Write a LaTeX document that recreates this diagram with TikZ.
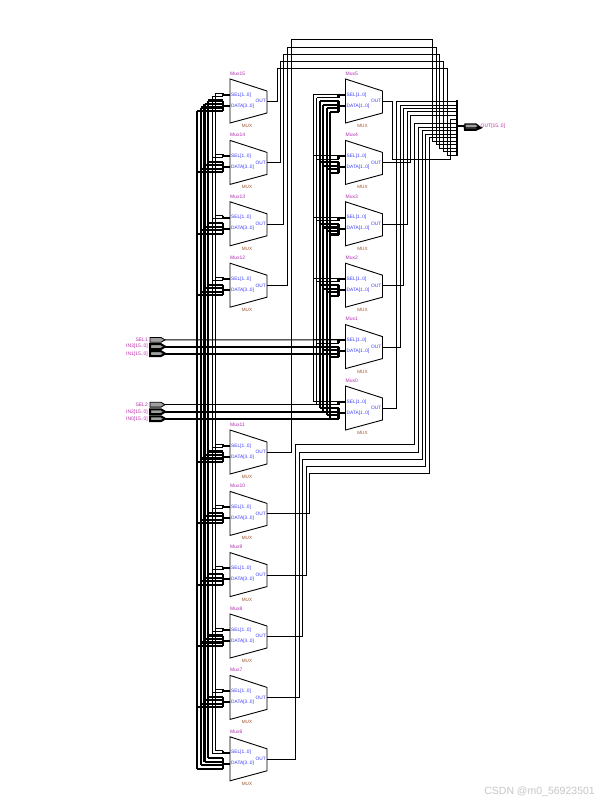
\documentclass[tikz,border=0pt]{standalone}
\usepackage{fontspec}
\setmainfont{Liberation Sans}
\definecolor{pinblue}{HTML}{3A3AFF}
\definecolor{muxname}{HTML}{B030B0}
\definecolor{muxbrown}{HTML}{A0502A}
\definecolor{iolabel}{HTML}{C030B0}
\tikzset{
  wire/.style={draw=black,line width=1pt},
  buswire/.style={draw=black,line width=2.1pt},
  muxbody/.style={draw=black,line width=0.9pt,fill=white,line join=miter},
  pinlabel/.style={inner sep=0pt,text=pinblue,font=\fontsize{4.8}{5.5}\selectfont},
  namelabel/.style={inner sep=0pt,text=muxname,font=\fontsize{5}{6}\selectfont},
  typelabel/.style={inner sep=0pt,text=muxbrown,font=\fontsize{4.6}{5.5}\selectfont},
  iotext/.style={inner sep=0pt,text=iolabel,font=\fontsize{5}{6}\selectfont},
  pinshape/.style={draw=black,fill=gray!75,line join=miter},
}
% name, x0, y0, instance label, data label
\newcommand{\muxcore}[5]{%
  \draw[muxbody] (#2,#3) -- (#2+37,#3+12) -- (#2+37,#3+34) -- (#2,#3+44) -- cycle;
  \coordinate (#1sel) at (#2,#3+15.8);
  \coordinate (#1dat) at (#2,#3+26.8);
  \coordinate (#1o) at (#2+37,#3+22.5);
  \node[namelabel,anchor=west] (#1name) at (#2,#3-5.5) {#4};
  \node[pinlabel,anchor=west] (#1stext) at (#2+1,#3+15.8) {SEL[1..0]};
  \node[pinlabel,anchor=west] (#1dtext) at (#2+1,#3+26.8) {#5};
  \node[pinlabel,anchor=east] (#1otext) at (#2+36,#3+22.2) {OUT};
  \node[typelabel] (#1type) at (#2+17,#3+47) {MUX};
}
% name, x0, y0: six levels, six bus x positions
\newcommand{\taps}[3]{%
  \coordinate (#1ts1) at (#2-7,#3+\lvA);
  \coordinate (#1ts2) at (#2-7,#3+\lvB);
  \coordinate (#1td1) at (#2-7,#3+\lvC);
  \coordinate (#1td2) at (#2-7,#3+\lvD);
  \coordinate (#1td3) at (#2-7,#3+\lvE);
  \coordinate (#1td4) at (#2-7,#3+\lvF);
  \coordinate (#1a) at (\xA,#3+\lvA);
  \coordinate (#1b) at (\xB,#3+\lvB);
  \coordinate (#1c) at (\xC,#3+\lvC);
  \coordinate (#1d) at (\xD,#3+\lvD);
  \coordinate (#1e) at (\xE,#3+\lvE);
  \coordinate (#1f) at (\xF,#3+\lvF);
  \path[wire] (#1a) -- (#1ts1) (#1b) -- (#1ts2);
  \path[buswire] (#1c) -- (#1td1) (#1d) -- (#1td2) (#1e) -- (#1td3) (#1f) -- (#1td4);
  \path[buswire] (#1ts1) -- (#1ts2) (#1td1) -- (#1td4);
  \path[buswire] (#2-7,#3+15.8) -- (#1sel) (#2-7,#3+26.8) -- (#1dat);
}
\newcommand{\useleft}{\def\lvA{14}\def\lvB{17}\def\lvC{21.5}\def\lvD{25}\def\lvE{28.5}\def\lvF{32}%
  \def\xA{215}\def\xB{212}\def\xC{208}\def\xD{204.5}\def\xE{201}\def\xF{197}}
\newcommand{\useright}{\def\lvA{15.3}\def\lvB{18.7}\def\lvC{22}\def\lvD{25.7}\def\lvE{29}\def\lvF{32.7}%
  \def\xA{313.3}\def\xB{316.7}\def\xC{320}\def\xD{323.3}\def\xE{326.7}\def\xF{330}}
\begin{document}
\begin{tikzpicture}[x=1pt,y=-1pt]
\useasboundingbox (0,0) rectangle (611,803);
\fill[white] (0,0) rectangle (611,803);

% multiplexers, left column
\useleft
\foreach \n/\y/\t in {15/79/Mux15,14/140.4/Mux14,13/201.8/Mux13,12/263.2/Mux12,11/430/Mux11,10/491.4/Mux10,9/552.6/Mux9,8/614/Mux8,7/675.4/Mux7,6/736.8/Mux6}{
  \muxcore{m\n}{230}{\y}{\t}{DATA[3..0]}
  \taps{m\n}{230}{\y}
}
\draw[wire] (m15a) -- (m6a) (m15b) -- (m6b);
\draw[buswire] (m15c) -- (m6c) (m15d) -- (m6d) (m15e) -- (m6e) (m15f) -- (m6f);

% multiplexers, right column
\useright
\foreach \n/\y/\t in {5/79/Mux5,4/140.4/Mux4,3/201.8/Mux3,2/263.2/Mux2,1/324.6/Mux1,0/386/Mux0}{
  \muxcore{m\n}{345.5}{\y}{\t}{DATA[1..0]}
  \taps{m\n}{345.5}{\y}
}
\draw[wire] (m5a) -- (m0a) (m5b) -- (m0b);
\draw[buswire] (m5c) -- (m0c) (m5d) -- (m0d) (m5e) -- (m0e) (m5f) -- (m0f);

% input pins
\coordinate (sel1pin) at (165,339.9);
\coordinate (in3pin) at (165,346.6);
\coordinate (in1pin) at (165,353.6);
\coordinate (sel2pin) at (165,404.7);
\coordinate (in2pin) at (165,411.7);
\coordinate (in0pin) at (165,418.7);
\draw[wire] (sel1pin) -- (m1ts1);
\draw[buswire] (in3pin) -- (m1td1);
\draw[buswire] (in1pin) -- (m1td3);
\draw[wire] (sel2pin) -- (m0ts2);
\draw[buswire] (in2pin) -- (m0td2);
\draw[buswire] (in0pin) -- (m0td4);
\foreach \p/\w in {sel1pin/0.8pt,sel2pin/0.8pt,in3pin/2pt,in1pin/2pt,in2pin/2pt,in0pin/2pt}{
  \draw[pinshape,line width=\w] ([shift={(-15,-2.4)}]\p) -- ([shift={(-4,-2.4)}]\p) -- ([shift={(0,0)}]\p) -- ([shift={(-4,2.4)}]\p) -- ([shift={(-15,2.4)}]\p) -- cycle;
}
\node[iotext,anchor=east] (sel1text) at (148,339.3) {SEL1};
\node[iotext,anchor=east] (in3text) at (148,346.7) {IN3[15..0]};
\node[iotext,anchor=east] (in1text) at (148,354) {IN1[15..0]};
\node[iotext,anchor=east] (sel2text) at (148,404.3) {SEL2};
\node[iotext,anchor=east] (in2text) at (148,412) {IN2[15..0]};
\node[iotext,anchor=east] (in0text) at (148,419) {IN0[15..0]};

% output bus
\coordinate (bustop) at (457,100);
\coordinate (busbot) at (457,155.8);
\coordinate (busout) at (457,125.8);
\coordinate (outpin) at (464.5,125.8);
\foreach \n/\y in {0/101,1/105,2/108.3,3/111.7,4/115,5/119.3,6/123.3,7/127,8/130.7,9/134.3,10/137.7,11/141,12/144.7,13/148.3,14/151.7,15/155}
  \coordinate (b\n) at (457,\y);

\draw[wire] (m0o) -| (396.3,101) -- (b0);
\draw[wire] (m1o) -| (400.3,105) -- (b1);
\draw[wire] (m2o) -| (403.7,108.3) -- (b2);
\draw[wire] (m3o) -| (407,111.7) -- (b3);
\draw[wire] (m4o) -| (410.3,115) -- (b4);
\draw[wire] (m5o) -| (392.3,159.3) -| (450.3,119.3) -- (b5);
\draw[wire] (m6o) -| (295.5,444.3) -| (414.7,123.3) -- (b6);
\draw[wire] (m7o) -| (299,452.3) -| (418.3,127) -- (b7);
\draw[wire] (m8o) -| (302.7,459.3) -| (422,130.7) -- (b8);
\draw[wire] (m9o) -| (306,466.3) -| (425.7,134.3) -- (b9);
\draw[wire] (m10o) -| (309.7,473.3) -| (429.5,137.7) -- (b10);
\draw[wire] (m11o) -| (291,39.3) -| (432.3,141) -- (b11);
\draw[wire] (m12o) -| (287,47.3) -| (436.3,144.7) -- (b12);
\draw[wire] (m13o) -| (283.7,54.3) -| (439.7,148.3) -- (b13);
\draw[wire] (m14o) -| (280.3,61.3) -| (443.3,151.7) -- (b14);
\draw[wire] (m15o) -| (277,68.3) -| (447.3,155) -- (b15);
\draw[buswire] (bustop) -- (busbot);
\draw[buswire] (busout) -- (outpin);
\draw[pinshape,line width=2pt] (outpin) -- (476,125.8) -- (480.5,127.8) -- (476,129.8) -- (465,129.8) -- cycle;
\draw[pinshape,line width=1.4pt] (465,124) -- (476,124) -- (479,126.4) -- (476,128) -- (465,128) -- cycle;
\node[iotext,anchor=west] (outtext) at (480.5,126.2) {OUT[15..0]};

% watermark
\node[inner sep=0pt,anchor=east,text=black!22,font=\fontsize{10.5}{12}\selectfont] (mark) at (595,792) {CSDN @m0\_56923501};
\end{tikzpicture}
\end{document}
